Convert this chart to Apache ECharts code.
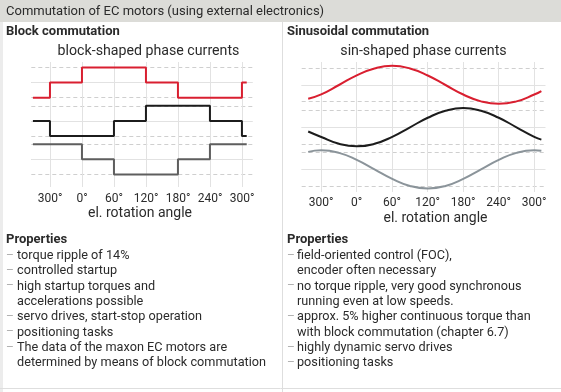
<!DOCTYPE html>
<html><head><meta charset="utf-8">
<script src="https://cdn.jsdelivr.net/npm/echarts@6/dist/echarts.min.js"></script>
<style>html,body{margin:0;padding:0;background:#fff}#c{width:561px;height:392px}</style>
</head><body><div id="c"></div>
<script>
// ---------- data ----------
const headerTitle = "Commutation of EC motors (using external electronics)";
const panelTitles = ["Block commutation", "Sinusoidal commutation"];
const chartSubtitles = ["block-shaped phase currents", "sin-shaped phase currents"];
const axisName = "el. rotation angle";
const axisTickLabels = ["300°", "0°", "60°", "120°", "180°", "240°", "300°"];

// block commutation: level held from each angle until the next
const blockRedAngles = [-92, -60, 0, 120, 180, 300, 309];
const blockRedLevels = [-1, 0, 1, 0, -1, 0, 0];
const blockBlackAngles = [-92, -60, 60, 120, 240, 300, 309];
const blockBlackLevels = [0, -1, 0, 1, 0, -1, -1];
const blockGrayAngles = [-92, 0, 60, 180, 240, 309];
const blockGrayLevels = [1, 0, -1, 0, 1, 1];

// sinusoidal commutation
const sinAngles = [-82, -60, -30, 0, 30, 60, 90, 120, 150, 180, 210, 240, 270, 300, 312];
const sinRed   = [-0.82, -0.56, 0.0, 0.58, 0.99, 1.15, 0.99, 0.57, 0.0, -0.57, -0.98, -1.13, -0.98, -0.57, -0.36];
const sinBlack = [-0.25, -0.58, -0.99, -1.14, -0.99, -0.57, 0.0, 0.57, 0.99, 1.16, 0.99, 0.57, 0.0, -0.57, -0.74];
const sinGray  = [1.05, 1.14, 0.99, 0.57, 0.0, -0.57, -0.99, -1.14, -0.99, -0.57, 0.0, 0.57, 0.99, 1.14, 1.11];

const propsTitle = "Properties";
const blockProps = [
  ["torque ripple of 14%"],
  ["controlled startup"],
  ["high startup torques and", "accelerations possible"],
  ["servo drives, start-stop operation"],
  ["positioning tasks"],
  ["The data of the maxon EC motors are", "determined by means of block commutation"]
];
const sinProps = [
  ["field-oriented control (FOC),", "encoder often necessary"],
  ["no torque ripple, very good synchronous", "running even at low speeds."],
  ["approx. 5% higher continuous torque than", "with block commutation (chapter 6.7)"],
  ["highly dynamic servo drives"],
  ["positioning tasks"]
];

// ---------- styling / layout ----------
const FONT = "Roboto, 'Liberation Sans', sans-serif";
const RED = "#d91f30", BLACK = "#1c1c1c", GRAY_B = "#5e5e5e", GRAY_S = "#8b949a";
const TXT = "#2b2b2b";
const tickValues = [-60, 0, 60, 120, 180, 240, 300];
function tickFmt(v) { const i = tickValues.indexOf(v); return i >= 0 ? axisTickLabels[i] : ""; }

const grids = [], xAxes = [], yAxes = [], series = [];

function addChart(cfg) {
  // background grid: vertical lines + labels
  const bg = grids.length;
  grids.push({ left: cfg.bgLeft, top: cfg.bgTop, width: cfg.bgWidth, height: cfg.bgHeight });
  xAxes.push({
    gridIndex: bg, type: 'value', min: -60, max: 300, interval: 60,
    axisLine: { show: false }, axisTick: { show: false },
    axisLabel: { color: TXT, fontSize: 12, fontFamily: FONT, margin: cfg.labelMargin, formatter: tickFmt },
    splitLine: { show: true, lineStyle: { color: '#e2e2e2', width: 1 } },
    name: axisName, nameLocation: 'middle', nameGap: cfg.nameGap,
    nameTextStyle: { color: TXT, fontSize: 14, fontFamily: FONT, padding: cfg.namePad }
  });
  yAxes.push({ gridIndex: bg, type: 'value', show: false });
  cfg.phases.forEach((p, k) => {
    const gi = grids.length;
    grids.push({ left: cfg.left, top: cfg.tops[k], width: cfg.width, height: cfg.height });
    xAxes.push({ gridIndex: gi, type: 'value', min: cfg.xmin, max: cfg.xmax, show: false });
    yAxes.push({
      gridIndex: gi, type: 'value', min: -1, max: 1, interval: 1,
      axisLine: { show: false }, axisTick: { show: false }, axisLabel: { show: false },
      splitLine: { show: true, lineStyle: { color: '#cfcfcf', type: [4, 3], width: 1 } }
    });
    series.push({
      type: 'line', xAxisIndex: gi, yAxisIndex: gi, data: p.data,
      step: cfg.step || false, smooth: cfg.smooth || false,
      showSymbol: false, symbol: 'none', clip: false, z: 3,
      lineStyle: { color: p.color, width: 2 }, animation: false,
      markLine: {
        silent: true, symbol: 'none', z: 1, animation: false,
        label: { show: false },
        lineStyle: { color: '#e2e2e2', type: 'solid', width: 1 },
        data: [{ yAxis: 0 }]
      }
    });
  });
}

const zip = (a, b) => a.map((v, i) => [v, b[i]]);

addChart({
  bgLeft: 50, bgTop: 62, bgWidth: 192, bgHeight: 125, labelMargin: 6, nameGap: 19, namePad: [0, 12, 0, 0],
  left: 31.3, width: 221.3, xmin: -95, xmax: 320, tops: [67.4, 105.8, 144.2], height: 30.3, step: 'end',
  phases: [
    { color: RED, data: zip(blockRedAngles, blockRedLevels) },
    { color: BLACK, data: zip(blockBlackAngles, blockBlackLevels) },
    { color: GRAY_B, data: zip(blockGrayAngles, blockGrayLevels) }
  ]
});
addChart({
  bgLeft: 321, bgTop: 62, bgWidth: 213, bgHeight: 130, labelMargin: 5, nameGap: 19, namePad: [0, 0, 0, 16],
  left: 301.7, width: 243.8, xmin: -93, xmax: 319, tops: [68.3, 110.6, 152.7], height: 33.4, smooth: 0.5,
  phases: [
    { color: RED, data: zip(sinAngles, sinRed) },
    { color: BLACK, data: zip(sinAngles, sinBlack) },
    { color: GRAY_S, data: zip(sinAngles, sinGray) }
  ]
});

// ---------- text / frame graphics ----------
const graphic = [];
function txt(text, x, y, opt) {
  graphic.push({ type: 'text', x, y, silent: true, style: Object.assign({
    text, fill: TXT, fontSize: 12.7, fontFamily: FONT, verticalAlign: 'middle', align: 'left'
  }, opt || {}) });
}
graphic.push({ type: 'rect', shape: { x: 0, y: 0, width: 561, height: 22 }, style: { fill: '#dcdcd8' }, silent: true });
graphic.push({ type: 'rect', shape: { x: 0, y: 22, width: 3, height: 370 }, style: { fill: '#ececec' }, silent: true });
graphic.push({ type: 'line', shape: { x1: 282.5, y1: 22, x2: 282.5, y2: 392 }, style: { stroke: '#dedede', lineWidth: 1 }, silent: true });
graphic.push({ type: 'line', shape: { x1: 0, y1: 388.5, x2: 561, y2: 388.5 }, style: { stroke: '#dedede', lineWidth: 1 }, silent: true });

txt(headerTitle, 6, 11.5, { fontSize: 13 });
txt(panelTitles[0], 6, 32, { fontWeight: 'bold', fontSize: 13 });
txt(panelTitles[1], 287, 32, { fontWeight: 'bold', fontSize: 13 });
txt(chartSubtitles[0], 148.5, 51, { align: 'center', fontSize: 14.2 });
txt(chartSubtitles[1], 423.5, 51, { align: 'center', fontSize: 14.2 });

function props(list, x0, xText) {
  txt(propsTitle, x0, 240, { fontWeight: 'bold', fontSize: 13 });
  let row = 0;
  list.forEach(item => {
    item.forEach((line, j) => {
      const y = 255.7 + row * 15.35;
      if (j === 0) txt("–", x0, y, { fill: '#b0b0b0', fontSize: 12 });
      txt(line, xText, y);
      row++;
    });
  });
}
props(blockProps, 6, 17);
props(sinProps, 287, 297);

const chart = echarts.init(document.getElementById('c'), null, { renderer: 'canvas' });
chart.setOption({
  animation: false,
  backgroundColor: '#fff',
  grid: grids, xAxis: xAxes, yAxis: yAxes, series,
  graphic
});
</script>
</body></html>
